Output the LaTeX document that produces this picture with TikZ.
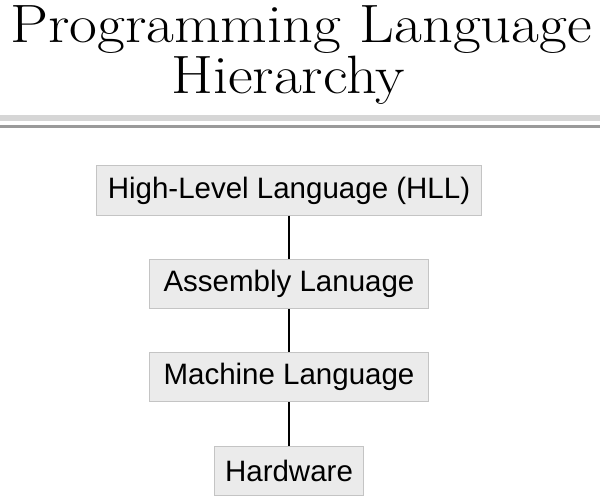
\documentclass[tikz,border=0pt]{standalone}
\usepackage{fontspec}
\newfontfamily\boxfont{Liberation Sans}
\usepackage{tikz}
\usetikzlibrary{calc}
\definecolor{boxfill}{HTML}{EBEBEB}
\definecolor{boxline}{HTML}{C4C4C4}
\definecolor{barlight}{HTML}{D6D6D6}
\definecolor{bardark}{HTML}{9A9A9A}
\tikzset{
	titre/.style={anchor=base,inner sep=0pt,xscale=1.12,font=\fontsize{54}{60}\selectfont},
	level/.style={draw=boxline,fill=boxfill,line width=1pt,inner xsep=11pt,minimum height=49pt,
		font=\boxfont\fontsize{29.5}{34}\selectfont},
	link/.style={line width=1.6pt,black}
}

\begin{document}
\begin{tikzpicture}[x=1pt,y=-1pt]
			          %\draw[help lines] (0,0) grid (600,500);
			          \useasboundingbox (0,0) rectangle (600,500);
			          \node[titre](title1) at (301,43) {Programming Language};
			          \node[titre](title2) at (288,94) {Hierarchy};
			          % bande grise sous le titre
			          \coordinate (barL) at (0,118);
			          \coordinate (barR) at (600,118);
			          \draw[barlight,line width=6pt] (barL) -- (barR);
			          \draw[bardark,line width=3pt] ($(barL)+(0,8.5)$) -- ($(barR)+(0,8.5)$);
			          \node[level](hll) at (289,190.5) {High-Level Language (HLL)};
			          \node[level,minimum width=279pt](asm) at (289,284) {Assembly Lanuage};
			          \node[level,minimum width=279pt](mach) at (289,377) {Machine Language};
			          \node[level](hw) at (289,471) {Hardware};
			          \draw[link] (hll) -- (asm);
			          \draw[link] (asm) -- (mach);
			          \draw[link] (mach) -- (hw);
				  \end{tikzpicture}
\end{document}
